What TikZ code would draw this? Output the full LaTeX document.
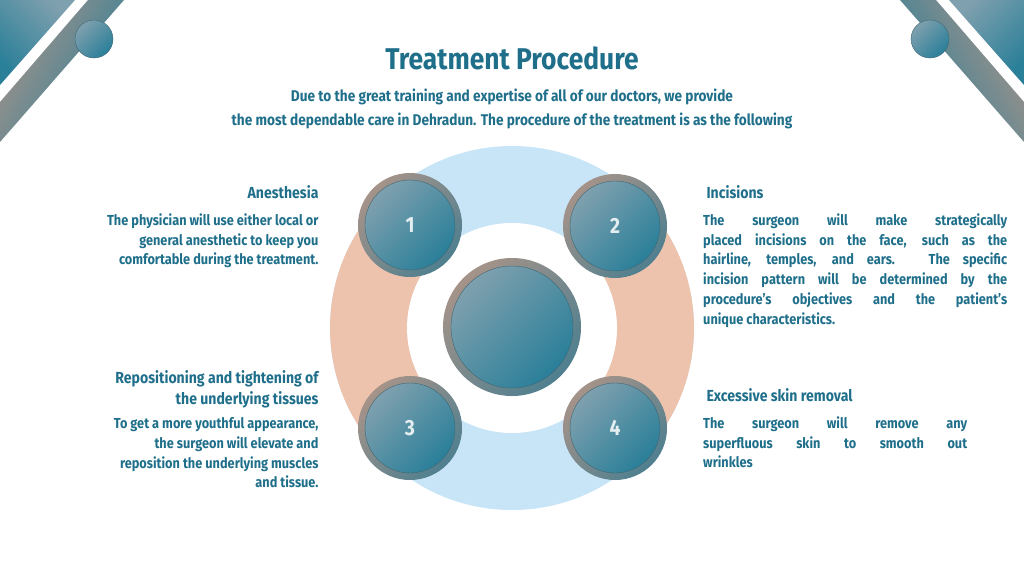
\documentclass[tikz,border=0pt]{standalone}
\usepackage{fontspec}
\setmainfont{Fira Sans}[FakeStretch=0.88]
\usetikzlibrary{calc}
\definecolor{teal}{HTML}{1F6F8B}
\definecolor{ringblue}{HTML}{C8E4F7}
\definecolor{ringpeach}{HTML}{EDC3AD}
\definecolor{ctl}{HTML}{7FA0AE}
\definecolor{cbr}{HTML}{2A7F99}
\definecolor{rimA}{HTML}{A59389}
\definecolor{rimB}{HTML}{4F7F8F}
\newcommand{\jl}[1]{\makebox[304pt][s]{#1}\\}
\newcommand{\jm}[1]{\makebox[264pt][s]{#1}\\}
\begin{document}
\begin{tikzpicture}[x=1pt,y=-1pt,
  rim/.style={circle,inner sep=0pt,left color=rimA,right color=rimB,shading angle=45},
  disc/.style={circle,inner sep=0pt,left color=ctl,right color=cbr,shading angle=45,draw=rimB!80!black,line width=0.4pt},
  num/.style={text=white!88!teal,font=\bfseries\fontsize{22}{22}\selectfont},
  head/.style={text=teal,font=\bfseries\fontsize{16}{19}\selectfont},
  body/.style={text=teal,font=\bfseries\fontsize{14.5}{19.8}\selectfont},
  band/.style={left color=ctl,right color=cbr}]
\useasboundingbox (0,0) rectangle (1024,576);
% corners
\shade[band,shading angle=-45] (0,0)--(75,0)--(0,85)--cycle;
\shade[left color=rimA,right color=cbr,shading angle=60] (88,0)--(124,0)--(0,142)--(0,102)--cycle;
\node[disc,minimum size=38pt] (cl) at (94,39) {};
\shade[band,shading angle=45] (1024,0)--(949,0)--(1024,85)--cycle;
\shade[left color=rimA,right color=cbr,shading angle=-60] (936,0)--(900,0)--(1024,142)--(1024,102)--cycle;
\node[disc,minimum size=38pt] (cr) at (930,39) {};
% ring
\coordinate (c) at (512,328);
\begin{scope}
\clip (c) circle (182);
\fill[ringblue] (c) circle (182);
\fill[ringpeach] (c) -- ++(-300,-300) -- ++(0,600) -- cycle;
\fill[ringpeach] (c) -- ++(300,-300) -- ++(0,600) -- cycle;
\end{scope}
\fill[white] (c) circle (105);
% center
\node[rim,minimum size=138pt] (cc) at (512,327) {};
\node[disc,minimum size=122pt] (ci) at (512,327) {};
% small
\foreach \n/\x/\y in {1/410/225,2/615/226,3/410/428,4/615/428}{
  \node[rim,minimum size=104pt] (r\n) at (\x,\y) {};
  \node[disc,minimum size=90pt] (d\n) at (\x,\y) {};
  \node[num] (n\n) at (\x,\y) {\n};
}
% title
\node[text=teal,font=\bfseries\fontsize{30}{30}\selectfont] (t) at (512,58) {Treatment Procedure};
\node[text=teal,font=\bfseries\fontsize{15.5}{24}\selectfont,align=center] (s) at (512,109)
 {Due to the great training and expertise of all of our doctors, we provide\\the most dependable care in Dehradun. The procedure of the treatment is as the following};
% left
\node[head,anchor=north east] (h1) at (322,182) {Anesthesia};
\node[body,anchor=north east,align=right] (b1) at (322,210) {The physician will use either local or\\general anesthetic to keep you\\comfortable during the treatment.};
\node[head,anchor=north east,align=right,font=\bfseries\fontsize{16}{21}\selectfont] (h3) at (322,367) {Repositioning and tightening of\\the underlying tissues};
\node[body,anchor=north east,align=right] (b3) at (322,414) {To get a more youthful appearance,\\the surgeon will elevate and\\reposition the underlying muscles\\and tissue.};
% right
\node[head,anchor=north west] (h2) at (703,182) {Incisions};
\node[body,anchor=north west,align=left,inner xsep=1pt] (b2) at (702,210) {\jl{The surgeon will make strategically}\jl{placed incisions on the face, such as the}\jl{hairline, temples, and ears. The specific}\jl{incision pattern will be determined by the}\jl{procedure's objectives and the patient's}unique characteristics.};
\node[head,anchor=north west] (h4) at (703,385) {Excessive skin removal};
\node[body,anchor=north west,align=left,inner xsep=1pt] (b4) at (702,413) {\jm{The surgeon will remove any}\jm{superfluous skin to smooth out}wrinkles};
\end{tikzpicture}
\end{document}
